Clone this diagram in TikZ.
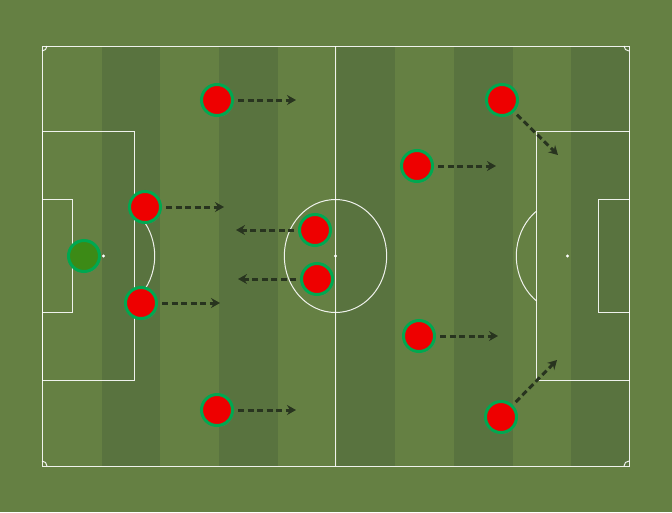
\documentclass[tikz,border=0pt]{standalone}
\usetikzlibrary{arrows.meta,shadows}
\definecolor{grass}{RGB}{101,128,67}
\definecolor{stripe}{RGB}{89,115,63}
\definecolor{ring}{RGB}{0,168,80}
\definecolor{shirt}{RGB}{238,0,0}
\definecolor{keeper}{RGB}{60,138,22}
\definecolor{runcol}{RGB}{40,52,31}
\tikzset{
  player/.style={circle, draw=ring, line width=3pt, fill=shirt, minimum size=31pt, inner sep=0pt,
    drop shadow={shadow xshift=1pt, shadow yshift=-1.5pt, opacity=0.25}},
  keeperdot/.style={player, fill=keeper},
  run/.style={draw=runcol, line width=3pt, dash pattern=on 6pt off 3.5pt,
    -{Stealth[length=9pt,width=10pt,inset=3pt]}, shorten <=4pt},
  pitchline/.style={draw=white, line width=1pt, draw opacity=0.9}
}
\begin{document}
\begin{tikzpicture}[x=1pt,y=-1pt]
  \useasboundingbox (0,0) rectangle (672,512);
  \fill[grass] (0,0) rectangle (672,512);
  % stripes
  \foreach \i in {0,...,4}
    \fill[stripe] ({101.7+117.4*\i},46) rectangle +(58.7,420);
  % pitch
  \draw[pitchline] (42,46) rectangle (629,466);
  \draw[pitchline] (335.5,46) -- (335.5,466);
  \draw[pitchline] (335.5,256) ellipse [x radius=51.2, y radius=56.5];
  \fill[white] (335.5,256) circle (1.6);
  % left end
  \draw[pitchline] (42,131) rectangle (134.5,380);
  \draw[pitchline] (42,199) rectangle (72.7,312);
  \fill[white] (103.5,256) circle (1.6);
  \draw[pitchline] (103.5,256) ++(-52.7:51.2 and 56.5) arc [start angle=-52.7, end angle=52.7, x radius=51.2, y radius=56.5];
  % right end
  \draw[pitchline] (536.5,131) rectangle (629,380);
  \draw[pitchline] (598.3,199) rectangle (629,312);
  \fill[white] (567.5,256) circle (1.6);
  \draw[pitchline] (567.5,256) ++(127.3:51.2 and 56.5) arc [start angle=127.3, end angle=232.7, x radius=51.2, y radius=56.5];
  % corners
  \draw[pitchline] (47,46) arc [start angle=0, end angle=90, radius=5];
  \draw[pitchline] (624,46) arc [start angle=180, end angle=90, radius=5];
  \draw[pitchline] (47,466) arc [start angle=0, end angle=-90, radius=5];
  \draw[pitchline] (624,466) arc [start angle=180, end angle=270, radius=5];

  % players
  \node[keeperdot] (gk) at (84,256) {};
  \node[player] (lb) at (217,100) {};
  \node[player] (lcb) at (145,207) {};
  \node[player] (rcb) at (141,303) {};
  \node[player] (rb) at (217,410) {};
  \node[player] (lcm) at (315,230) {};
  \node[player] (rcm) at (317,279) {};
  \node[player] (lam) at (417,166) {};
  \node[player] (ram) at (419,336) {};
  \node[player] (lw) at (502,100) {};
  \node[player] (rw) at (501,417) {};

  % runs
  \coordinate (lb-to) at (296,100);
  \coordinate (lcb-to) at (224,207);
  \coordinate (rcb-to) at (220,303);
  \coordinate (rb-to) at (296,410);
  \coordinate (lcm-to) at (236,230);
  \coordinate (rcm-to) at (238,279);
  \coordinate (lam-to) at (496,166);
  \coordinate (ram-to) at (498,336);
  \coordinate (lw-to) at (558,155);
  \coordinate (rw-to) at (557,360);
  \draw[run] (lb) -- (lb-to);
  \draw[run] (lcb) -- (lcb-to);
  \draw[run] (rcb) -- (rcb-to);
  \draw[run] (rb) -- (rb-to);
  \draw[run] (lcm) -- (lcm-to);
  \draw[run] (rcm) -- (rcm-to);
  \draw[run] (lam) -- (lam-to);
  \draw[run] (ram) -- (ram-to);
  \draw[run] (lw) -- (lw-to);
  \draw[run] (rw) -- (rw-to);
\end{tikzpicture}
\end{document}
